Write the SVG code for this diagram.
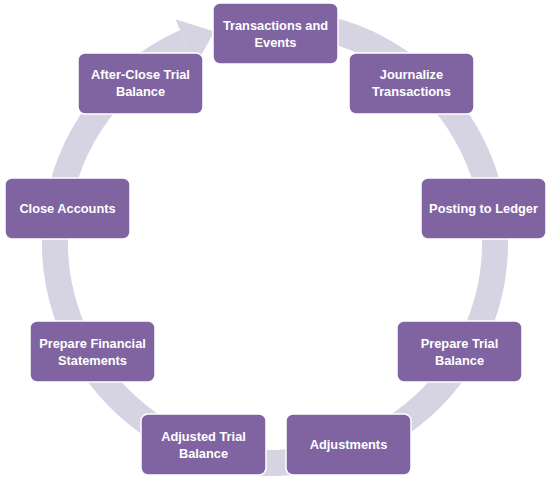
<svg xmlns="http://www.w3.org/2000/svg" width="550" height="478" viewBox="0 0 550 478">
<style>
.box{fill:#8064A2;stroke:#FFFFFF;stroke-width:1.5}
.lbl{fill:#FFFFFF;font-family:"Liberation Sans",Arial,sans-serif;font-weight:bold;font-size:12.8px;text-anchor:middle}
.ring{fill:none;stroke:#D6D3E3;stroke-width:26}
</style>
<rect width="550" height="478" fill="#FFFFFF"/>
<g id="connectors">
<path class="ring" d="M294.2,23.8 A220,220 0 1 1 185.5,42.0"/>
<polygon fill="#D6D3E3" points="175.4,19.2 214.4,31.5 195.7,64.9"/>
</g>
<g id="n1"><rect class="box" x="213" y="3" width="125" height="61" rx="7"/><text class="lbl" x="275.5" y="29.5">Transactions  and</text><text class="lbl" x="275.5" y="46.5">Events</text></g>
<g id="n2"><rect class="box" x="349" y="53" width="125" height="61" rx="7"/><text class="lbl" x="411.5" y="79">Journalize</text><text class="lbl" x="411.5" y="96">Transactions</text></g>
<g id="n3"><rect class="box" x="421" y="178" width="125" height="61" rx="7"/><text class="lbl" x="483.5" y="213">Posting to Ledger</text></g>
<g id="n4"><rect class="box" x="397" y="321" width="125" height="61" rx="7"/><text class="lbl" x="459.5" y="347.5">Prepare Trial</text><text class="lbl" x="459.5" y="364.5">Balance</text></g>
<g id="n5"><rect class="box" x="286" y="414" width="125" height="61" rx="7"/><text class="lbl" x="348.5" y="448.5">Adjustments</text></g>
<g id="n6"><rect class="box" x="141" y="414" width="125" height="61" rx="7"/><text class="lbl" x="203.5" y="440.5">Adjusted Trial</text><text class="lbl" x="203.5" y="457.5">Balance</text></g>
<g id="n7"><rect class="box" x="30" y="321" width="125" height="61" rx="7"/><text class="lbl" x="92.5" y="347.5">Prepare Financial</text><text class="lbl" x="92.5" y="364.5">Statements</text></g>
<g id="n8"><rect class="box" x="5" y="178" width="125" height="61" rx="7"/><text class="lbl" x="67.5" y="213">Close Accounts</text></g>
<g id="n9"><rect class="box" x="78" y="53" width="125" height="61" rx="7"/><text class="lbl" x="140.5" y="79">After-Close Trial</text><text class="lbl" x="140.5" y="96">Balance</text></g>
</svg>
